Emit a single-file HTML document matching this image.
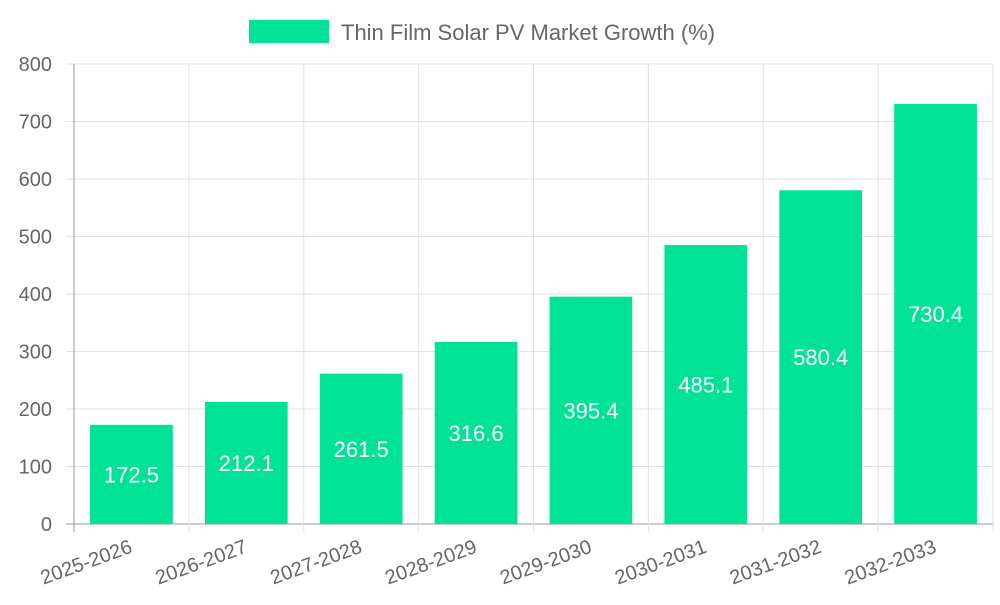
<!DOCTYPE html>
<html><head><meta charset="utf-8"><style>
body{margin:0;background:#fff;width:1000px;height:600px;overflow:hidden;font-family:"Liberation Sans",sans-serif}
</style></head><body>
<svg id="chart" width="1000" height="600" xmlns="http://www.w3.org/2000/svg" font-family="Liberation Sans, sans-serif">
<g>
<rect x="249" y="20" width="80" height="23" fill="#00e396"/>
<text x="341" y="40" font-size="22" fill="#666">Thin Film Solar PV Market Growth (%)</text>
</g>
<g id="grid"></g>
<g id="bars"></g>
<g id="axes"></g>
</svg>
<script>
const categories=["2025-2026","2026-2027","2027-2028","2028-2029","2029-2030","2030-2031","2031-2032","2032-2033"];
const values=[172.5,212.1,261.5,316.6,395.4,485.1,580.4,730.4];
const yTicks=[0,100,200,300,400,500,600,700,800];
const NS="http://www.w3.org/2000/svg";
const L=74,R=993,T=64,B=524,yMax=800;
const y=v=>B-(v/yMax)*(B-T);
const band=(R-L)/categories.length;
const x=i=>L+band*i;
function mk(tag,attrs,parent,txt){const e=document.createElementNS(NS,tag);for(const k in attrs)e.setAttribute(k,attrs[k]);if(txt!==undefined)e.textContent=txt;parent.appendChild(e);return e;}
const grid=document.getElementById('grid'),bars=document.getElementById('bars'),axes=document.getElementById('axes');
yTicks.forEach(t=>{
  const ln=mk('line',{x1:66,x2:R,y1:y(t),y2:y(t),stroke:t===0?'#999':'#e0e0e0','stroke-width':1},grid);
  
  
  const tx=mk('text',{x:52,y:y(t)+7,'text-anchor':'end','font-size':20,fill:'#666'},axes,String(t));
  
  
});
for(let i=0;i<=categories.length;i++){
  const ln=mk('line',{x1:x(i),x2:x(i),y1:T,y2:B+8,stroke:i===0?'#999':'#e0e0e0','stroke-width':1},grid);
  
  
}
const bw=band*0.72;
categories.forEach((c,i)=>{
  const cx=x(i)+band/2;
  const r=mk('rect',{x:cx-bw/2,y:y(values[i]),width:bw,height:B-y(values[i]),fill:'#00e396'},bars);
  
  
  const vl=mk('text',{x:cx,y:(y(values[i])+B)/2+8,'text-anchor':'middle','font-size':22,fill:'#fff'},bars,values[i].toFixed(1));
  
  
  const xl=mk('text',{x:cx+2,y:B+28,'text-anchor':'end','font-size':20,fill:'#666',transform:`rotate(-20 ${cx+2} ${B+28})`},axes,c);
  
  
});
</script>
</body></html>
